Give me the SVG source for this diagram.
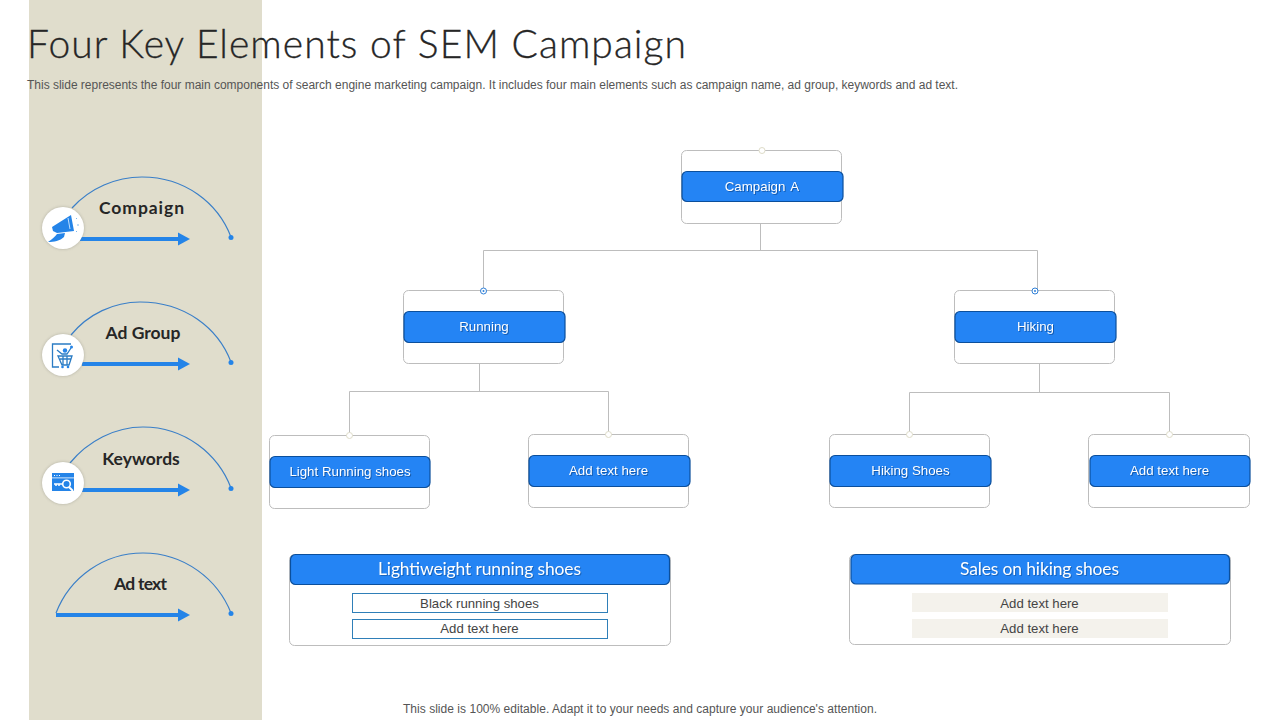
<svg xmlns="http://www.w3.org/2000/svg" width="1280" height="720" viewBox="0 0 1280 720">
<style>
.sans{font-family:"Liberation Sans",Arial,sans-serif}
.geo{font-family:"Lato","Liberation Sans",sans-serif}
.title{font-size:39px;fill:#262626;stroke:#262626;stroke-width:.3;font-weight:300}
.sub{font-size:12px;fill:#555}
.lab{font-size:17.5px;fill:#262626;font-weight:700;text-anchor:middle}
.card{fill:#fff;stroke:#bdbdbd;stroke-width:1}
.btn{fill:#2484f4;stroke:#0b4f9c;stroke-width:1.2}
.btxt{font-size:13.3px;fill:#fff;text-anchor:middle;filter:drop-shadow(1px 1px .6px rgba(0,40,90,.45))}
.htxt{font-size:17.5px;fill:#fff;text-anchor:middle;font-weight:400;filter:drop-shadow(1px 1px .6px rgba(0,40,90,.35))}
.row{font-size:13.2px;fill:#444;text-anchor:middle}
.arc{fill:none;stroke:#3a7fc8;stroke-width:1.2}
.arrow{stroke:#2484e8;stroke-width:4;fill:none}
.conn{fill:none;stroke:#bdbdbd;stroke-width:1}
.ic{fill:#2484e8}
.disc{fill:#fff;filter:drop-shadow(0 0 1.500px rgba(120,120,110,.45))}
.iline{fill:none;stroke:#2b7cc4;stroke-width:1.300}
</style>
<defs>
<marker id="ah" markerUnits="userSpaceOnUse" markerWidth="12" markerHeight="14" refX="0" refY="7" orient="auto"><path d="M0 0.500L12 7L0 13.500Z" fill="#2484e8"/></marker>
</defs>
<rect width="1280" height="720" fill="#fff"/>
<rect x="29" y="0" width="233" height="720" fill="#e0ddcc"/>
<text class="geo title" x="27" y="58" textLength="659" lengthAdjust="spacing">Four Key Elements of SEM Campaign</text>
<text class="sans sub" x="27" y="89" textLength="931" lengthAdjust="spacing">This slide represents the four main components of search engine marketing campaign. It includes four main elements such as campaign name, ad group, keywords and ad text.</text>

<g id="connectors">
<path class="conn" d="M760.500 223V250.500M483.500 291V250.500H1037.500V291"/>
<path class="conn" d="M479.500 363V391.500M349.500 435V391.500H608.500V435"/>
<path class="conn" d="M1039.500 363V392.500M909.500 434V392.500H1169.500V434"/>
</g>

<g id="side-compaign">
<path class="arc" d="M72 208C90 188 116 177 142 177C185 177 218 203 231 237"/>
<circle cx="231" cy="237.500" r="2.500" fill="#2484e8"/>
<path class="arrow" d="M80 239H178" marker-end="url(#ah)"/>
<circle class="disc" cx="63" cy="228" r="21"/>
<path class="ic" d="M52 227L71 215L74 231L57 233L53 231ZM48 242C52 239 55 237 57 234L65 233L64 237C60 241 54 242 48 242Z"/>
<path d="M68 218L70 229" stroke="#bfe0ff" stroke-width="1" fill="none"/>
<path d="M76 219l1-1M77 225h2M76 231l1 1" stroke="#7fb8ee" stroke-width="1" fill="none"/>
<text class="geo lab" x="141.500" y="214" textLength="85" lengthAdjust="spacing">Compaign</text>
</g>
<g id="side-adgroup">
<path class="arc" d="M71 335C88 314 114 302 140 302C185 302 218 328 231 362"/>
<circle cx="231" cy="362.500" r="2.500" fill="#2484e8"/>
<path class="arrow" d="M82 364H178" marker-end="url(#ah)"/>
<circle class="disc" cx="63" cy="355" r="21"/>
<path class="iline" d="M71 344H52.500V367H59M58 356L62 365H69L72 356ZM57 350L62 354H67L71 348M60 359H71M63 356V365M67 356V365"/>
<circle class="ic" cx="65" cy="350.500" r="2.200"/><circle class="ic" cx="71.500" cy="347" r="1.500"/><circle class="ic" cx="62.500" cy="367" r="1.300"/><circle class="ic" cx="68" cy="367" r="1.300"/>
<text class="geo lab" x="143" y="339">Ad Group</text>
</g>
<g id="side-keywords">
<path class="arc" d="M70 463C88 441 115 427 143 427C185 427 218 454 231 488"/>
<circle cx="231" cy="488.500" r="2.500" fill="#2484e8"/>
<path class="arrow" d="M82 490H178" marker-end="url(#ah)"/>
<circle class="disc" cx="63" cy="483" r="21"/>
<rect class="ic" x="52" y="473" width="22" height="18"/>
<path d="M54 475.500h1M56.500 475.500h1M59 475.500h1" stroke="#fff" stroke-width="1.200" fill="none"/>
<rect x="52" y="477.500" width="22" height=".8" fill="#fff"/>
<circle cx="66.500" cy="484" r="3.800" fill="#2484e8" stroke="#fff" stroke-width="1.600"/>
<path d="M54 484H62M56 484v2M59 484v2" stroke="#fff" stroke-width="1.500" fill="none"/>
<path d="M69 487L73 491" stroke="#fff" stroke-width="2" fill="none"/>
<text class="geo lab" x="141" y="465">Keywords</text>
</g>
<g id="side-adtext">
<path class="arc" d="M56 613C70 577 104 553 143 553C185 553 218 580 231 613"/>
<circle cx="231" cy="613.500" r="2.500" fill="#2484e8"/>
<path class="arrow" d="M56 615H178" marker-end="url(#ah)"/>
<text class="geo lab" x="140.500" y="590" textLength="53" lengthAdjust="spacing">Ad text</text>
</g>

<g id="n-campaign">
<rect class="card" x="681.500" y="150.500" width="160" height="73" rx="5"/>
<circle cx="762" cy="150.500" r="3" fill="#fff" stroke="#dedcc9"/>
<rect class="btn" x="682" y="171.500" width="161" height="30" rx="5"/>
<text class="sans btxt" x="762" y="191" word-spacing="2">Campaign A</text>
</g>
<g id="n-running">
<rect class="card" x="403.500" y="290.500" width="160" height="73" rx="5"/>
<circle cx="483.500" cy="291" r="3" fill="#fff" stroke="#2f80d8"/><circle cx="483.500" cy="291" r="1" fill="#2f80d8"/>
<rect class="btn" x="404" y="311.500" width="161" height="31" rx="5"/>
<text class="sans btxt" x="484" y="331">Running</text>
</g>
<g id="n-hiking">
<rect class="card" x="954.500" y="290.500" width="160" height="73" rx="5"/>
<circle cx="1035" cy="291" r="3" fill="#fff" stroke="#2f80d8"/><circle cx="1035" cy="291" r="1" fill="#2f80d8"/>
<rect class="btn" x="955" y="311.500" width="161" height="31" rx="5"/>
<text class="sans btxt" x="1035.500" y="331">Hiking</text>
</g>
<g id="n-light">
<rect class="card" x="269.500" y="435.500" width="160" height="73" rx="5"/>
<circle cx="349.500" cy="435.500" r="3" fill="#fff" stroke="#dedcc9"/>
<rect class="btn" x="270" y="456.500" width="160" height="31" rx="5"/>
<text class="sans btxt" x="350" y="476">Light Running shoes</text>
</g>
<g id="n-add1">
<rect class="card" x="528.500" y="434.500" width="160" height="73" rx="5"/>
<circle cx="608.500" cy="434.500" r="3" fill="#fff" stroke="#dedcc9"/>
<rect class="btn" x="529" y="455.500" width="161" height="31" rx="5"/>
<text class="sans btxt" x="608.500" y="475">Add text here</text>
</g>
<g id="n-hshoes">
<rect class="card" x="829.500" y="434.500" width="160" height="73" rx="5"/>
<circle cx="909.500" cy="434.500" r="3" fill="#fff" stroke="#dedcc9"/>
<rect class="btn" x="830" y="455.500" width="161" height="31" rx="5"/>
<text class="sans btxt" x="910.500" y="475">Hiking Shoes</text>
</g>
<g id="n-add2">
<rect class="card" x="1088.500" y="434.500" width="161" height="73" rx="5"/>
<circle cx="1169.500" cy="434.500" r="3" fill="#fff" stroke="#dedcc9"/>
<rect class="btn" x="1090" y="455.500" width="160" height="31" rx="5"/>
<text class="sans btxt" x="1169.500" y="475">Add text here</text>
</g>

<g id="n-lightweight">
<rect class="card" x="289.500" y="554.500" width="381" height="91" rx="5"/>
<rect class="btn" x="290.500" y="554.500" width="379" height="30" rx="5"/>
<text class="geo htxt" x="479.500" y="575" textLength="203" lengthAdjust="spacing">Lightiweight running shoes</text>
<rect x="352.500" y="593.500" width="255" height="19" fill="#fff" stroke="#2f7fb8"/>
<text class="sans row" x="479.500" y="608">Black running shoes</text>
<rect x="352.500" y="619.500" width="255" height="19" fill="#fff" stroke="#2f7fb8"/>
<text class="sans row" x="479.500" y="633">Add text here</text>
</g>
<g id="n-sales">
<rect class="card" x="849.500" y="554.500" width="381" height="90" rx="5"/>
<rect class="btn" x="851" y="554.500" width="378.500" height="29.500" rx="5"/>
<text class="geo htxt" x="1039.500" y="575" textLength="159" lengthAdjust="spacing">Sales on hiking shoes</text>
<rect x="912" y="593" width="256" height="19" fill="#f4f2ec"/>
<text class="sans row" x="1039.500" y="608">Add text here</text>
<rect x="912" y="619" width="256" height="19" fill="#f4f2ec"/>
<text class="sans row" x="1039.500" y="633">Add text here</text>
</g>
<text class="sans" x="403" y="713" font-size="12" fill="#555" textLength="474" lengthAdjust="spacing">This slide is 100% editable. Adapt it to your needs and capture your audience's attention.</text>
</svg>
